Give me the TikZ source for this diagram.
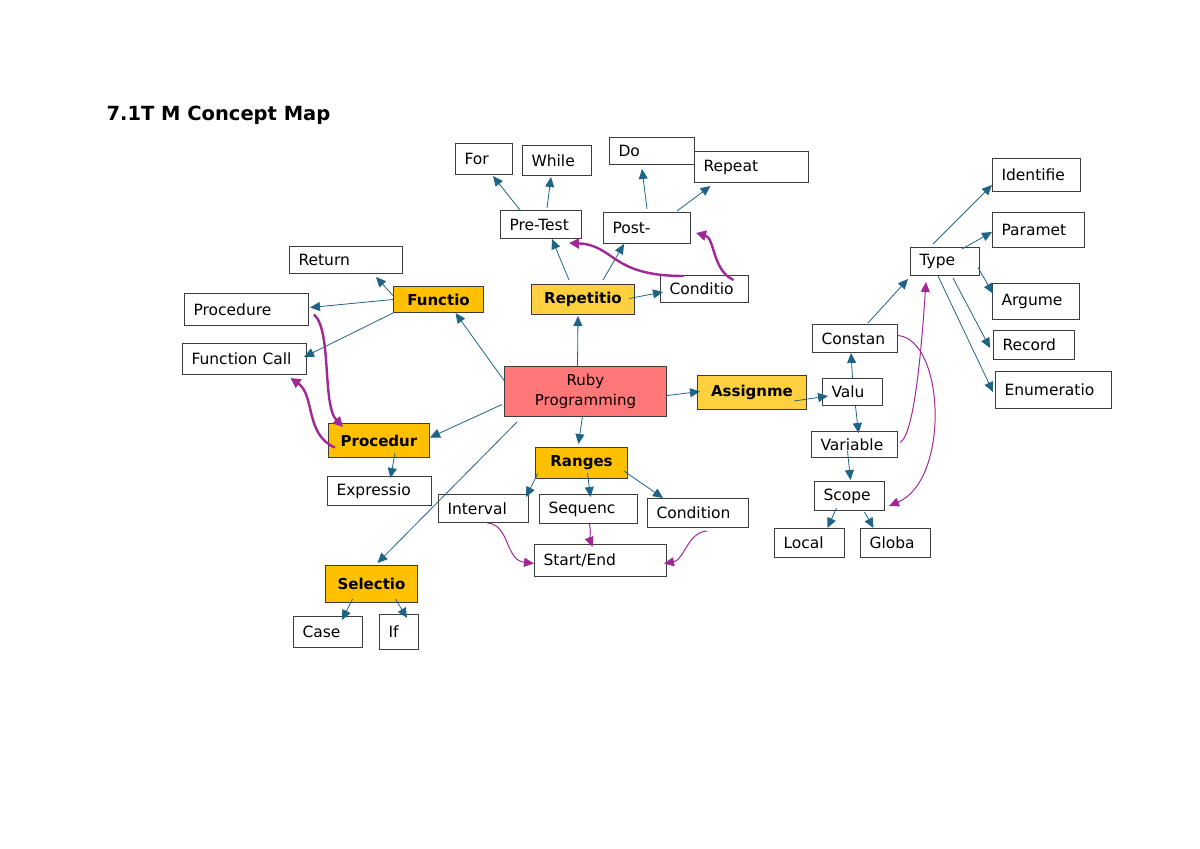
\documentclass[tikz,border=0pt]{standalone}
\usepackage{fontspec}
\setmainfont{DejaVu Sans}
\usepackage{tikz}
\usetikzlibrary{arrows.meta}
\definecolor{linkblue}{RGB}{31,100,135}
\definecolor{curvepurple}{RGB}{160,40,150}
\definecolor{rubyred}{RGB}{255,119,119}
\definecolor{keyorange}{RGB}{255,192,0}
\definecolor{keyyellow}{RGB}{255,208,64}
\definecolor{boxgray}{RGB}{60,60,60}

\begin{document}
\begin{tikzpicture}[x=1pt,y=-1pt,
    box/.style={draw=boxgray,fill=white,line width=1pt,anchor=north west,
      inner xsep=9pt,inner ysep=0pt,align=left,font=\fontsize{15.5}{17}\selectfont},
    keybox/.style={box,fill=keyorange,align=center,font=\fontsize{15}{17}\selectfont\bfseries},
    softkey/.style={keybox,fill=keyyellow},
    rootbox/.style={box,fill=rubyred,align=center,font=\fontsize{15}{20}\selectfont},
    link/.style={draw=linkblue,line width=0.8pt,-{Triangle[length=10pt,width=9pt]}},
    curvelink/.style={draw=curvepurple,line width=2.4pt,-{Triangle[length=10pt,width=10pt]}},
    thincurve/.style={draw=curvepurple,line width=1pt,-{Triangle[length=10pt,width=9pt]}}]
  \useasboundingbox (0,0) rectangle (1200,849);

  \node[anchor=west,font=\fontsize{19.5}{22}\selectfont\bfseries] (title) at (103,115) {7.1T M Concept Map};

  % centre
  \node[rootbox,text width=144pt,minimum height=50pt] (ruby) at (504,366) {Ruby\\Programming};

  % functions and procedures
  \node[box,text width=95pt,minimum height=27pt] (return) at (289,246) {Return};
  \node[keybox,text width=72pt,minimum height=26pt] (functio) at (393,286) {Functio};
  \node[box,text width=106pt,minimum height=32pt] (procedure) at (184,293) {Procedure};
  \node[box,text width=106pt,minimum height=31pt] (fcall) at (182,343) {Function Call};
  \node[keybox,text width=83pt,minimum height=34pt] (procedur) at (328,423) {Procedur};
  \node[box,text width=86pt,minimum height=29pt] (expressio) at (327,476) {Expressio};

  % repetition
  \node[box,text width=39pt,minimum height=31pt] (for) at (455,143) {For};
  \node[box,text width=51pt,minimum height=30pt] (while) at (522,145) {While};
  \node[box,text width=67pt,minimum height=27pt] (do) at (609,137) {Do};
  \node[box,text width=96pt,minimum height=31pt] (repeat) at (694,151) {Repeat};
  \node[box,text width=63pt,minimum height=28pt] (pretest) at (500,210) {Pre-Test};
  \node[box,text width=69pt,minimum height=31pt] (post) at (603,212) {Post-};
  \node[softkey,text width=85pt,minimum height=30pt] (repetitio) at (531,284) {Repetitio};
  \node[box,text width=70pt,minimum height=27pt] (conditio) at (660,275) {Conditio};

  % ranges
  \node[keybox,text width=74pt,minimum height=31pt] (ranges) at (535,447) {Ranges};
  \node[box,text width=72pt,minimum height=28pt] (interval) at (438,494) {Interval};
  \node[box,text width=80pt,minimum height=29pt] (sequenc) at (539,494) {Sequenc};
  \node[box,text width=83pt,minimum height=29pt] (condition) at (647,498) {Condition};
  \node[box,text width=114pt,minimum height=32pt] (startend) at (534,544) {Start/End};

  % selection
  \node[keybox,text width=74pt,minimum height=37pt] (selectio) at (325,565) {Selectio};
  \node[box,text width=51pt,minimum height=31pt] (case) at (293,616) {Case};
  \node[box,text width=21pt,minimum height=35pt] (if) at (379,614) {If};

  % assignment
  \node[softkey,text width=91pt,minimum height=34pt] (assignme) at (697,375) {Assignme};
  \node[box,text width=42pt,minimum height=27pt] (valu) at (822,378) {Valu};
  \node[box,text width=67pt,minimum height=28pt] (constan) at (812,324) {Constan};
  \node[box,text width=68pt,minimum height=26pt] (variable) at (811,431) {Variable};
  \node[box,text width=52pt,minimum height=29pt] (scope) at (814,481) {Scope};
  \node[box,text width=52pt,minimum height=29pt] (local) at (774,528) {Local};
  \node[box,text width=52pt,minimum height=29pt] (globa) at (860,528) {Globa};
  \node[box,text width=51pt,minimum height=28pt] (type) at (910,247) {Type};
  \node[box,text width=70pt,minimum height=33pt] (identifie) at (992,158) {Identifie};
  \node[box,text width=74pt,minimum height=35pt] (paramet) at (992,212) {Paramet};
  \node[box,text width=69pt,minimum height=36pt] (argume) at (992,283) {Argume};
  \node[box,text width=63pt,minimum height=29pt] (record) at (993,330) {Record};
  \node[box,text width=98pt,minimum height=37pt] (enumeratio) at (995,371) {Enumeratio};

  % blue links
  \draw[link] ([shift={(0,-4)}]functio.west) -- ([shift={(30,3)}]return.south);
  \draw[link] (functio.west) -- ([shift={(1,-2)}]procedure.east);
  \draw[link] (functio.south west) -- ([shift={(-3,-2)}]fcall.east);
  \draw[link] ([shift={(0,-11)}]ruby.west) -- ([shift={(17,0)}]functio.south);
  \draw[link] ([shift={(-2,13)}]ruby.west) -- ([shift={(0,-3)}]procedur.east);
  \draw[link] ([shift={(13,5)}]ruby.south west) -- ([shift={(6,-2)}]selectio.north);
  \draw[link] ([shift={(16,-5)}]procedur.south) -- ([shift={(11,2)}]expressio.north);
  \draw[link] ([shift={(-8,0)}]ruby.north) -- ([shift={(-5,1)}]repetitio.south);
  \draw[link] ([shift={(-14,-4)}]repetitio.north) -- ([shift={(11,0)}]pretest.south);
  \draw[link] ([shift={(20,-4)}]repetitio.north) -- ([shift={(-23,0)}]post.south);
  \draw[link] ([shift={(-6,-1)}]repetitio.east) -- ([shift={(3,3)}]conditio.west);
  \draw[link] ([shift={(-21,0)}]pretest.north) -- ([shift={(9,1)}]for.south);
  \draw[link] ([shift={(6,-2)}]pretest.north) -- ([shift={(-6,1)}]while.south);
  \draw[link] ([shift={(0,-3)}]post.north) -- ([shift={(-10,4)}]do.south);
  \draw[link] ([shift={(30,-1)}]post.north) -- ([shift={(-41,3)}]repeat.south);
  \draw[link] ([shift={(0,4)}]ruby.east) -- ([shift={(3,-1)}]assignme.west);
  \draw[link] ([shift={(-13,-9)}]assignme.south east) -- ([shift={(6,4)}]valu.west);
  \draw[link] ([shift={(-3,-1)}]ruby.south) -- ([shift={(-3,-3)}]ranges.north);
  \draw[link] ([shift={(3,-6)}]ranges.south west) -- ([shift={(-3,3)}]interval.north east);
  \draw[link] ([shift={(6,-6)}]ranges.south) -- ([shift={(2,3)}]sequenc.north);
  \draw[link] ([shift={(-4,-8)}]ranges.south east) -- ([shift={(-35,0)}]condition.north);
  \draw[link] (valu.north) -- ([shift={(-4,0)}]constan.south);
  \draw[link] ([shift={(3,0)}]valu.south) -- ([shift={(4,2)}]variable.north);
  \draw[link] ([shift={(-7,-7)}]variable.south) -- ([shift={(1,-1)}]scope.north);
  \draw[link] ([shift={(-13,-3)}]scope.south) -- ([shift={(18,0)}]local.north);
  \draw[link] ([shift={(15,1)}]scope.south) -- ([shift={(-22,0)}]globa.north);
  \draw[link] ([shift={(13,-1)}]constan.north) -- ([shift={(-2,3)}]type.south west);
  \draw[link] ([shift={(-12,-3)}]type.north) -- ([shift={(0,10)}]identifie.west);
  \draw[link] ([shift={(-18,2)}]type.north east) -- ([shift={(0,2)}]paramet.west);
  \draw[link] ([shift={(-2,6)}]type.east) -- ([shift={(1,-8)}]argume.west);
  \draw[link] ([shift={(8,2)}]type.south) -- ([shift={(-3,3)}]record.west);
  \draw[link] ([shift={(-7,0)}]type.south) -- ([shift={(-2,2)}]enumeratio.west);
  \draw[link] ([shift={(-19,-4)}]selectio.south) -- ([shift={(14,4)}]case.north);
  \draw[link] ([shift={(24,-4)}]selectio.south) -- ([shift={(8,4)}]if.north);

  % purple curves
  \draw[curvelink] ([shift={(5,5)}]procedure.east) .. controls (332,330) and (322,405) .. ([shift={(15,4)}]procedur.north west);
  \draw[curvelink] ([shift={(7,7)}]procedur.west) .. controls (305,435) and (315,395) .. ([shift={(46,3)}]fcall.south);
  \draw[curvelink] ([shift={(-21,1)}]conditio.north) .. controls (610,276) and (615,245) .. ([shift={(-13,4)}]pretest.south east);
  \draw[curvelink] ([shift={(29,5)}]conditio.north) .. controls (712,270) and (715,238) .. ([shift={(5,5)}]post.east);
  \draw[thincurve] ([shift={(4,0)}]interval.south) .. controls (510,525) and (505,560) .. ([shift={(0,3)}]startend.west);
  \draw[thincurve] ([shift={(1,0)}]sequenc.south) .. controls (591,530) and (590,540) .. ([shift={(-8,3)}]startend.north);
  \draw[thincurve] ([shift={(9,3)}]condition.south) .. controls (688,532) and (684,560) .. ([shift={(-3,3)}]startend.east);
  \draw[thincurve] ([shift={(2,-2)}]variable.east) .. controls (915,435) and (922,340) .. ([shift={(-19,6)}]type.south);
  \draw[thincurve] ([shift={(0,-3)}]constan.east) .. controls (945,340) and (950,480) .. ([shift={(4,10)}]scope.east);
\end{tikzpicture}
\end{document}
